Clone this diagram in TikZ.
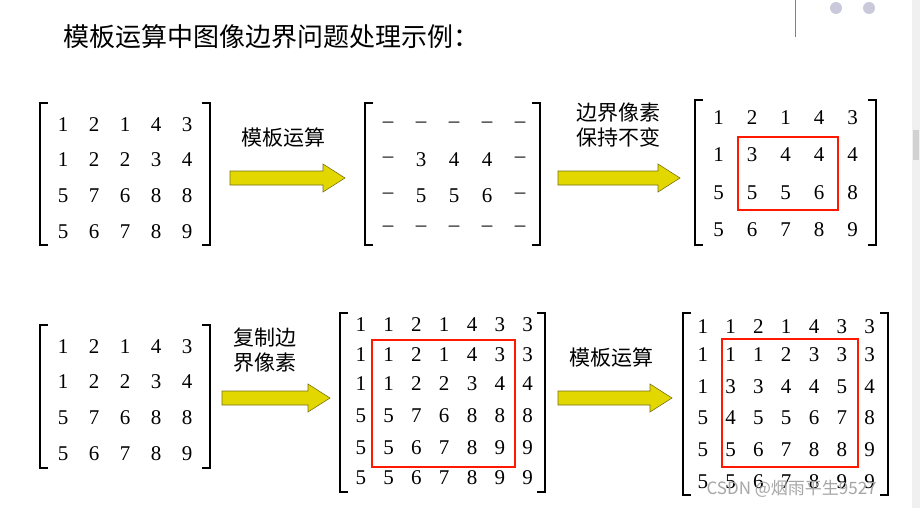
\documentclass[tikz,border=0pt]{standalone}
\usepackage{fontspec}
\setmainfont{Liberation Serif}
\newfontfamily\cjk{Noto Sans CJK SC}
\begin{document}
\begin{tikzpicture}[x=1pt,y=-1pt,
  num/.style={font=\fontsize{21}{21}\selectfont,inner sep=0pt},
  lab/.style={font=\cjk\fontsize{21}{25}\selectfont,align=left,inner sep=0pt},
  redbox/.style={draw=red!80!orange,line width=1.6pt},
  bigarrow/.style={fill=yellow!75!olive,draw=olive!80!black,line width=0.6pt}]
\useasboundingbox (0,0) rectangle (920,508);
\fill[white] (0,0) rectangle (920,508);
\fill[gray!12] (912,0) rectangle (920,508);
\fill[gray!35] (913,130) rectangle (919,160);
\draw[gray,line width=1pt] (795,0) -- (795,37);
\fill[blue!20!gray!35] (836,8) circle (6);
\fill[blue!20!gray!35] (869,8) circle (6);
\node[anchor=west,font=\cjk\fontsize{26}{26}\selectfont] (title) at (60,37) {模板运算中图像边界问题处理示例：};
% macros
\newcommand\brk[4]{% xl xr ytop ybot
  \draw[line width=2pt] (#1+8,#3) -- (#1,#3) -- (#1,#4) -- (#1+8,#4);
  \draw[line width=2pt] (#2-8,#3) -- (#2,#3) -- (#2,#4) -- (#2-8,#4);}
\newcommand\arr[3]{% x1 x2 y
  \draw[bigarrow] (#1,#3-7) -- (#2-22,#3-7) -- (#2-22,#3-14) -- (#2,#3) -- (#2-22,#3+14) -- (#2-22,#3+7) -- (#1,#3+7) -- cycle;}
\newcommand\row[3]{% y, xs, entries
  \foreach \xx/\vv in {#2} {\node[num] at (\xx,#1) {\vv};}}
% Matrix 1
\brk{40}{210}{103}{245}
\foreach \yy/\rr in {125/{1,2,1,4,3},160/{1,2,2,3,4},196/{5,7,6,8,8},232/{5,6,7,8,9}}{
  \foreach \vv [count=\i] in \rr {\node[num] at (32+31*\i,\yy) {\vv};}}
\arr{230}{345}{178}
\node[lab] (l1) at (283,138) {模板运算};
% Matrix 2
\brk{365}{540}{103}{245}
\foreach \yy/\rr in {125/{--,--,--,--,--},160/{--,3,4,4,--},196/{--,5,5,6,--},229/{--,--,--,--,--}}{
  \foreach \vv [count=\i] in \rr {\node[num] at (355+33*\i,\yy) {\vv};}}
\arr{558}{680}{178}
\node[lab] (l2) at (618,125) {边界像素\\保持不变};
% Matrix 3
\brk{695}{876}{100}{245}
\foreach \yy/\rr in {118/{1,2,1,4,3},155/{1,3,4,4,4},193/{5,5,5,6,8},230/{5,6,7,8,9}}{
  \foreach \vv [count=\i] in \rr {\node[num] at (685+33.5*\i,\yy) {\vv};}}
\draw[redbox] (738,137) rectangle (838,210);
% Matrix 4
\brk{40}{210}{325}{468}
\foreach \yy/\rr in {347/{1,2,1,4,3},382/{1,2,2,3,4},418/{5,7,6,8,8},454/{5,6,7,8,9}}{
  \foreach \vv [count=\i] in \rr {\node[num] at (32+31*\i,\yy) {\vv};}}
\arr{222}{330}{398}
\node[lab] (l3) at (265,350) {复制边\\界像素};
% Matrix 5
\brk{340}{545}{313}{492}
\foreach \yy/\rr in {325/{1,1,2,1,4,3,3},355/{1,1,2,1,4,3,3},384/{1,1,2,2,3,4,4},416/{5,5,7,6,8,8,8},448/{5,5,6,7,8,9,9},478/{5,5,6,7,8,9,9}}{
  \foreach \vv [count=\i] in \rr {\node[num] at (333+27.8*\i,\yy) {\vv};}}
\draw[redbox] (372,340) rectangle (515,467);
\arr{558}{672}{398}
\node[lab] (l4) at (611,358) {模板运算};
% Matrix 6
\brk{683}{888}{313}{495}
\foreach \yy/\rr in {327/{1,1,2,1,4,3,3},355/{1,1,1,2,3,3,3},387/{1,3,3,4,4,5,4},418/{5,4,5,5,6,7,8},450/{5,5,6,7,8,8,9},482/{5,5,6,7,8,9,9}}{
  \foreach \vv [count=\i] in \rr {\node[num] at (675+27.8*\i,\yy) {\vv};}}
\draw[redbox] (722,339) rectangle (858,467);
\node[font=\cjk\fontsize{17}{17}\selectfont,text=gray!70,anchor=west] (wm) at (703,489) {CSDN @烟雨平生9527};
\end{tikzpicture}
\end{document}
